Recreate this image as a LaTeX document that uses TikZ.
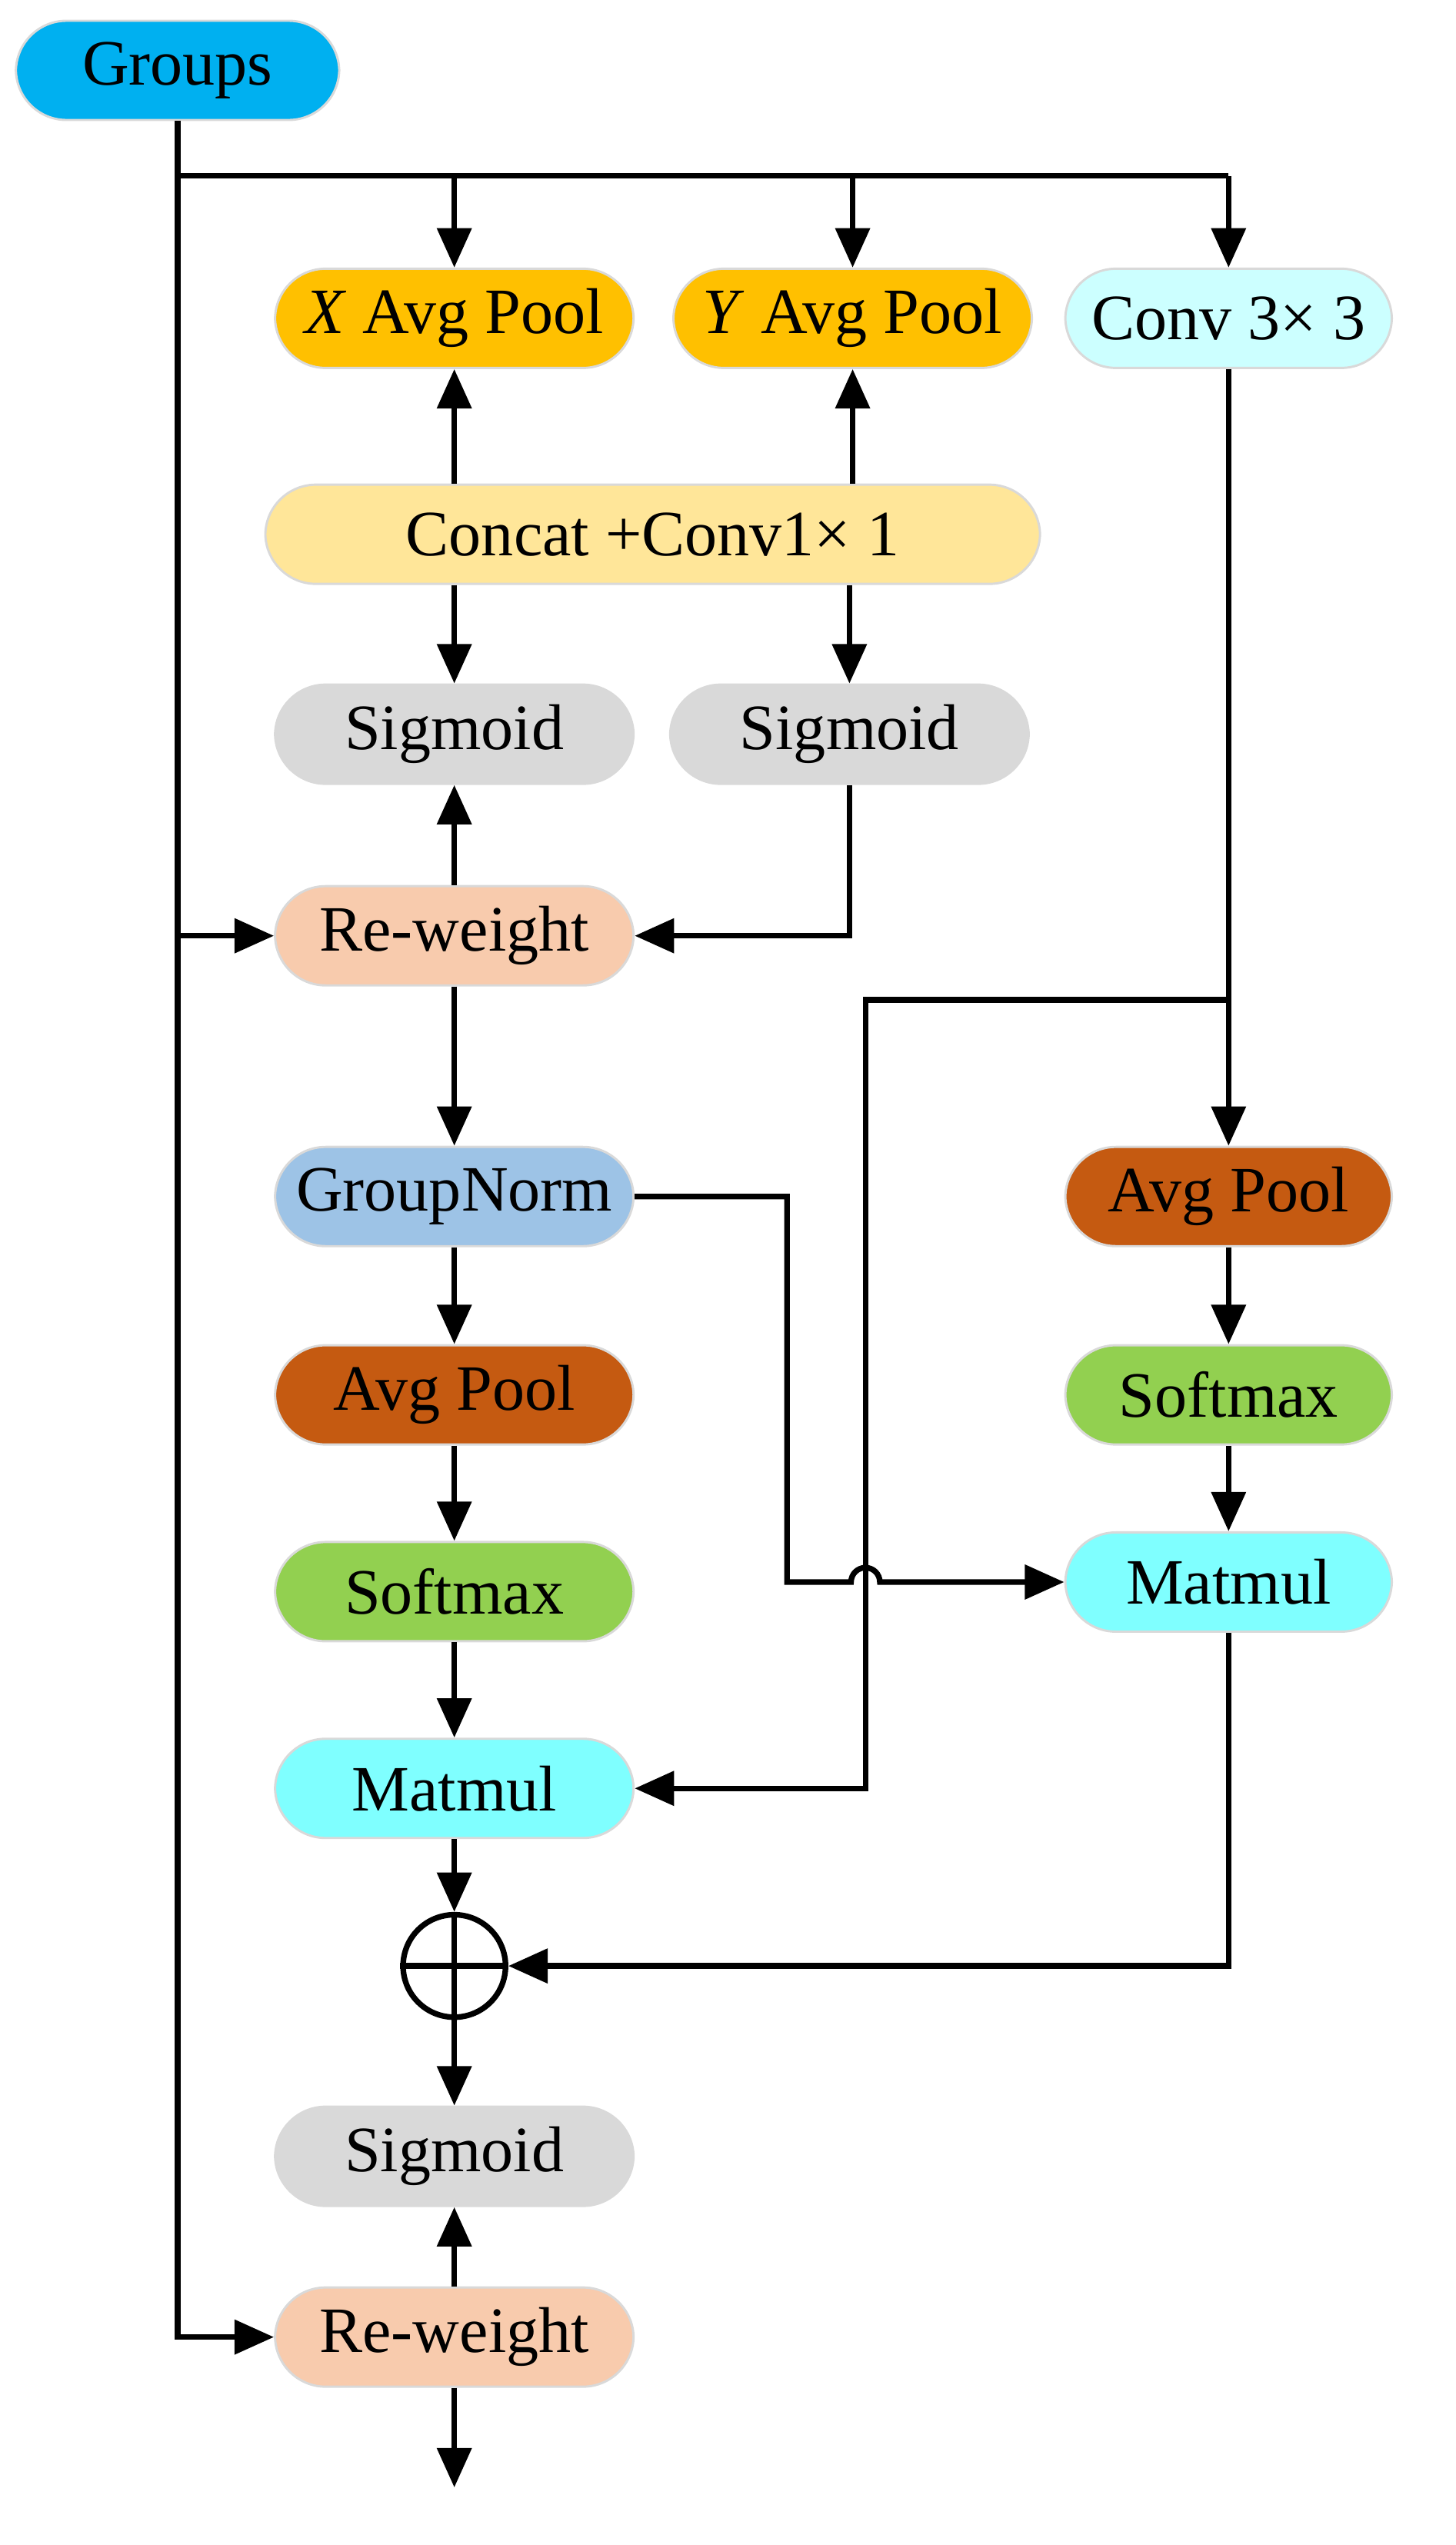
\documentclass[tikz,border=0pt]{standalone}
\usepackage{fontspec}
\setmainfont{Liberation Serif}
\usetikzlibrary{arrows.meta}
\definecolor{cGroups}{HTML}{00B0F0}
\definecolor{cPool}{HTML}{FFC000}
\definecolor{cConv}{HTML}{CCFFFF}
\definecolor{cCat}{HTML}{FFE699}
\definecolor{cSig}{HTML}{D9D9D9}
\definecolor{cRew}{HTML}{F8CBAD}
\definecolor{cNorm}{HTML}{9DC3E6}
\definecolor{cAvg}{HTML}{C55A11}
\definecolor{cSoft}{HTML}{92D050}
\definecolor{cMat}{HTML}{7FFFFF}
\tikzset{myblock/.style={
  shape=rectangle,
  rounded corners=9pt,
  draw=black!15,
  minimum width=2.24cm,
  minimum height=0.62cm,
  font=\fontsize{11.5}{13}\selectfont,
  text=black,
  }
}
\tikzset{myblockR/.style={
  myblock,
  minimum width=2.04cm,
  }
}
\tikzset{myline/.style={
  line width=1pt,
  -{Triangle[length=7pt,width=6pt]},
  }
}
\begin{document}
\begin{tikzpicture}[x=0.01cm,y=-0.01cm]
  \useasboundingbox (0,0) rectangle (910,1591);
  % blocks
  \node [myblock, fill=cGroups, minimum width=2.02cm] (grp) at (111,44) {Groups};
  \node [myblock, fill=cPool] (xp) at (284,199) {\textit{X} Avg Pool};
  \node [myblock, fill=cPool] (yp) at (533,199) {\textit{Y} Avg Pool};
  \node [myblockR, fill=cConv] (cv) at (768,199) {Conv 3× 3};
  \node [myblock, fill=cCat, minimum width=4.84cm] (cat) at (408,334) {Concat +Conv1× 1};
  \node [myblock, fill=cSig] (sg1) at (284,459) {Sigmoid};
  \node [myblock, fill=cSig] (sg2) at (531,459) {Sigmoid};
  \node [myblock, fill=cRew] (rw1) at (284,585) {Re-weight};
  \node [myblock, fill=cNorm] (gn) at (284,748) {GroupNorm};
  \node [myblock, fill=cAvg] (ap1) at (284,872) {Avg Pool};
  \node [myblock, fill=cSoft] (sm1) at (284,995) {Softmax};
  \node [myblock, fill=cMat] (mm1) at (284,1118) {Matmul};
  \node [circle, draw, line width=1pt, minimum size=0.64cm, inner sep=0pt] (add) at (284,1229) {};
  \draw [line width=1pt] (add.north) -- (add.south) (add.west) -- (add.east);
  \node [myblock, fill=cSig] (sg3) at (284,1348) {Sigmoid};
  \node [myblock, fill=cRew] (rw2) at (284,1461) {Re-weight};
  \node [myblockR, fill=cAvg] (ap2) at (768,748) {Avg Pool};
  \node [myblockR, fill=cSoft] (sm2) at (768,872) {Softmax};
  \node [myblockR, fill=cMat] (mm2) at (768,989) {Matmul};
  \coordinate (out) at (284,1555);

  % connectors
  \draw [line width=1pt] (grp.south) -- (111,110) -- (768,110);
  \draw [myline] (111,110) |- (rw2.west);
  \draw [myline] (111,585) -- (rw1.west);
  \draw [myline] (284,110) -- (xp.north);
  \draw [myline] (533,110) -- (yp.north);
  \draw [myline] (768,110) -- (cv.north);
  \draw [myline] (cat.north -| xp) -- (xp.south);
  \draw [myline] (cat.north -| yp) -- (yp.south);
  \draw [myline] (cat.south -| sg1) -- (sg1.north);
  \draw [myline] (cat.south -| sg2) -- (sg2.north);
  \draw [myline] (rw1.north) -- (sg1.south);
  \draw [myline] (sg2.south) |- (rw1.east);
  \draw [myline] (rw1) -- (gn);
  \draw [myline] (gn) -- (ap1);
  \draw [myline] (ap1) -- (sm1);
  \draw [myline] (sm1) -- (mm1);
  \draw [myline] (mm1) -- (add);
  \draw [myline] (add) -- (sg3);
  \draw [myline] (rw2) -- (sg3);
  \draw [myline] (rw2) -- (out);
  \draw [myline] (cv) -- (ap2);
  \draw [myline] (ap2) -- (sm2);
  \draw [myline] (sm2) -- (mm2);
  \draw [myline] (768,625) -- (541,625) |- (mm1.east);
  \draw [myline] (gn.east) -- (492,748) -- (492,989) -- (532,989) arc (180:360:9) -- (mm2.west);
  \draw [myline] (mm2.south) |- (add.east);
\end{tikzpicture}
\end{document}
